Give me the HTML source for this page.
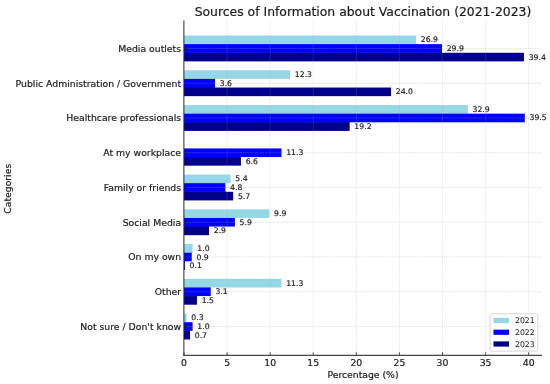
<!DOCTYPE html><html><head><meta charset="utf-8"><title>Sources of Information about Vaccination</title>
<style>html,body{margin:0;padding:0;background:#fff;}body{width:550px;height:384px;overflow:hidden;}svg{display:block;}text{font-family:"DejaVu Sans","Liberation Sans",sans-serif;fill:#1a1a1a;stroke:#1a1a1a;stroke-width:0.18px;stroke-linejoin:round;}</style></head><body>
<svg width="550" height="384" viewBox="0 0 550 384">
<rect width="550" height="384" fill="#fff"/>
<rect x="184.00" y="35.52" width="232.09" height="8.62" fill="#96d7e5"/>
<rect x="184.00" y="43.64" width="232.09" height="1" fill="#96d7e5"/>
<rect x="184.00" y="44.14" width="257.98" height="8.62" fill="#0000ff"/>
<rect x="184.00" y="52.26" width="257.98" height="1" fill="#0000ff"/>
<rect x="184.00" y="52.76" width="339.94" height="8.62" fill="#00008b"/>
<rect x="184.00" y="70.28" width="106.12" height="8.62" fill="#96d7e5"/>
<rect x="184.00" y="78.40" width="31.06" height="1" fill="#96d7e5"/>
<rect x="184.00" y="78.90" width="31.06" height="8.62" fill="#0000ff"/>
<rect x="184.00" y="87.02" width="31.06" height="1" fill="#0000ff"/>
<rect x="184.00" y="87.52" width="207.07" height="8.62" fill="#00008b"/>
<rect x="184.00" y="105.04" width="283.86" height="8.62" fill="#96d7e5"/>
<rect x="184.00" y="113.16" width="283.86" height="1" fill="#96d7e5"/>
<rect x="184.00" y="113.66" width="340.81" height="8.62" fill="#0000ff"/>
<rect x="184.00" y="121.78" width="165.66" height="1" fill="#0000ff"/>
<rect x="184.00" y="122.28" width="165.66" height="8.62" fill="#00008b"/>
<rect x="184.00" y="148.42" width="97.50" height="8.62" fill="#0000ff"/>
<rect x="184.00" y="156.54" width="56.94" height="1" fill="#0000ff"/>
<rect x="184.00" y="157.04" width="56.94" height="8.62" fill="#00008b"/>
<rect x="184.00" y="174.56" width="46.59" height="8.62" fill="#96d7e5"/>
<rect x="184.00" y="182.68" width="41.41" height="1" fill="#96d7e5"/>
<rect x="184.00" y="183.18" width="41.41" height="8.62" fill="#0000ff"/>
<rect x="184.00" y="191.30" width="41.41" height="1" fill="#0000ff"/>
<rect x="184.00" y="191.80" width="49.18" height="8.62" fill="#00008b"/>
<rect x="184.00" y="209.32" width="85.42" height="8.62" fill="#96d7e5"/>
<rect x="184.00" y="217.44" width="50.91" height="1" fill="#96d7e5"/>
<rect x="184.00" y="217.94" width="50.91" height="8.62" fill="#0000ff"/>
<rect x="184.00" y="226.06" width="25.02" height="1" fill="#0000ff"/>
<rect x="184.00" y="226.56" width="25.02" height="8.62" fill="#00008b"/>
<rect x="184.00" y="244.08" width="8.63" height="8.62" fill="#96d7e5"/>
<rect x="184.00" y="252.20" width="7.77" height="1" fill="#96d7e5"/>
<rect x="184.00" y="252.70" width="7.77" height="8.62" fill="#0000ff"/>
<rect x="184.00" y="260.82" width="0.86" height="1" fill="#0000ff"/>
<rect x="184.00" y="261.32" width="0.86" height="8.62" fill="#00008b"/>
<rect x="184.00" y="278.84" width="97.50" height="8.62" fill="#96d7e5"/>
<rect x="184.00" y="286.96" width="26.75" height="1" fill="#96d7e5"/>
<rect x="184.00" y="287.46" width="26.75" height="8.62" fill="#0000ff"/>
<rect x="184.00" y="295.58" width="12.94" height="1" fill="#0000ff"/>
<rect x="184.00" y="296.08" width="12.94" height="8.62" fill="#00008b"/>
<rect x="184.00" y="313.60" width="2.59" height="8.62" fill="#96d7e5"/>
<rect x="184.00" y="321.72" width="2.59" height="1" fill="#96d7e5"/>
<rect x="184.00" y="322.22" width="8.63" height="8.62" fill="#0000ff"/>
<rect x="184.00" y="330.34" width="6.04" height="1" fill="#0000ff"/>
<rect x="184.00" y="330.84" width="6.04" height="8.62" fill="#00008b"/>
<g stroke="#b0b0b0" stroke-opacity="0.5" stroke-width="0.6" stroke-dasharray="1.7,0.75" fill="none">
<line x1="227.09" y1="20.5" x2="227.09" y2="355.0" stroke-opacity="0.42"/>
<line x1="270.17" y1="20.5" x2="270.17" y2="355.0" stroke-opacity="0.42"/>
<line x1="313.25" y1="20.5" x2="313.25" y2="355.0" stroke-opacity="0.42"/>
<line x1="356.34" y1="20.5" x2="356.34" y2="355.0" stroke-opacity="0.42"/>
<line x1="399.43" y1="20.5" x2="399.43" y2="355.0" stroke-opacity="0.42"/>
<line x1="442.51" y1="20.5" x2="442.51" y2="355.0" stroke-opacity="0.42"/>
<line x1="485.60" y1="20.5" x2="485.60" y2="355.0" stroke-opacity="0.42"/>
<line x1="528.68" y1="20.5" x2="528.68" y2="355.0" stroke-opacity="0.42"/>
<line x1="184.0" y1="48.45" x2="542.0" y2="48.45"/>
<line x1="184.0" y1="83.21" x2="542.0" y2="83.21"/>
<line x1="184.0" y1="117.97" x2="542.0" y2="117.97"/>
<line x1="184.0" y1="152.73" x2="542.0" y2="152.73"/>
<line x1="184.0" y1="187.49" x2="542.0" y2="187.49"/>
<line x1="184.0" y1="222.25" x2="542.0" y2="222.25"/>
<line x1="184.0" y1="257.01" x2="542.0" y2="257.01"/>
<line x1="184.0" y1="291.77" x2="542.0" y2="291.77"/>
<line x1="184.0" y1="326.53" x2="542.0" y2="326.53"/>
</g>
<g fill="none"><line x1="183.9" y1="20.5" x2="183.9" y2="355.75" stroke="#2a2a2a" stroke-width="1.0"/><line x1="183.4" y1="355.3" x2="542.0" y2="355.3" stroke="#1a1a1a" stroke-width="1.0"/></g>
<g stroke="#222" stroke-width="0.8">
<line x1="184.00" y1="355.0" x2="184.00" y2="352.3"/>
<line x1="227.09" y1="355.0" x2="227.09" y2="352.3"/>
<line x1="270.17" y1="355.0" x2="270.17" y2="352.3"/>
<line x1="313.25" y1="355.0" x2="313.25" y2="352.3"/>
<line x1="356.34" y1="355.0" x2="356.34" y2="352.3"/>
<line x1="399.43" y1="355.0" x2="399.43" y2="352.3"/>
<line x1="442.51" y1="355.0" x2="442.51" y2="352.3"/>
<line x1="485.60" y1="355.0" x2="485.60" y2="352.3"/>
<line x1="528.68" y1="355.0" x2="528.68" y2="352.3"/>
<line x1="184.0" y1="48.45" x2="186.7" y2="48.45"/>
<line x1="184.0" y1="83.21" x2="186.7" y2="83.21"/>
<line x1="184.0" y1="117.97" x2="186.7" y2="117.97"/>
<line x1="184.0" y1="152.73" x2="186.7" y2="152.73"/>
<line x1="184.0" y1="187.49" x2="186.7" y2="187.49"/>
<line x1="184.0" y1="222.25" x2="186.7" y2="222.25"/>
<line x1="184.0" y1="257.01" x2="186.7" y2="257.01"/>
<line x1="184.0" y1="291.77" x2="186.7" y2="291.77"/>
<line x1="184.0" y1="326.53" x2="186.7" y2="326.53"/>
</g>
<g font-size="9.31" text-anchor="middle">
<text x="184.00" y="365.80">0</text>
<text x="227.09" y="365.80">5</text>
<text x="270.17" y="365.80">10</text>
<text x="313.25" y="365.80">15</text>
<text x="356.34" y="365.80">20</text>
<text x="399.43" y="365.80">25</text>
<text x="442.51" y="365.80">30</text>
<text x="485.60" y="365.80">35</text>
<text x="528.68" y="365.80">40</text>
</g>
<g font-size="9.31" text-anchor="end">
<text x="181.10" y="51.90">Media outlets</text>
<text x="181.10" y="86.66">Public Administration / Government</text>
<text x="181.10" y="121.42">Healthcare professionals</text>
<text x="181.10" y="156.18">At my workplace</text>
<text x="181.10" y="190.94">Family or friends</text>
<text x="181.10" y="225.70">Social Media</text>
<text x="181.10" y="260.46">On my own</text>
<text x="181.10" y="295.22">Other</text>
<text x="181.10" y="329.98">Not sure / Don't know</text>
</g>
<g font-size="7.73">
<text x="420.79" y="42.33">26.9</text>
<text x="446.68" y="50.95">29.9</text>
<text x="528.64" y="59.57">39.4</text>
<text x="294.82" y="77.09">12.3</text>
<text x="219.76" y="85.71">3.6</text>
<text x="395.77" y="94.33">24.0</text>
<text x="472.56" y="111.85">32.9</text>
<text x="529.51" y="120.47">39.5</text>
<text x="354.36" y="129.09">19.2</text>
<text x="286.20" y="155.23">11.3</text>
<text x="245.64" y="163.85">6.6</text>
<text x="235.29" y="181.37">5.4</text>
<text x="230.11" y="189.99">4.8</text>
<text x="237.88" y="198.61">5.7</text>
<text x="274.12" y="216.13">9.9</text>
<text x="239.61" y="224.75">5.9</text>
<text x="213.72" y="233.37">2.9</text>
<text x="197.33" y="250.89">1.0</text>
<text x="196.47" y="259.51">0.9</text>
<text x="189.56" y="268.13">0.1</text>
<text x="286.20" y="285.65">11.3</text>
<text x="215.45" y="294.27">3.1</text>
<text x="201.64" y="302.89">1.5</text>
<text x="191.29" y="320.41">0.3</text>
<text x="197.33" y="329.03">1.0</text>
<text x="194.74" y="337.65">0.7</text>
</g>
<text x="363.00" y="15.9" font-size="12.4" text-anchor="middle">Sources of Information about Vaccination (2021-2023)</text>
<text x="363.00" y="377.8" font-size="9.28" text-anchor="middle">Percentage (%)</text>
<text transform="translate(11.1,188.75) rotate(-90)" font-size="9.28" text-anchor="middle">Categories</text>
<rect x="490.2" y="313.8" width="47.6" height="37.3" rx="1.6" fill="#fff" fill-opacity="0.8" stroke="#ccc" stroke-width="0.8"/>
<rect x="493.5" y="317.90" width="15.5" height="5.2" fill="#96d7e5"/>
<text x="515" y="323.45" font-size="7.73" style="stroke-width:0.06px;fill:#2a2a2a;stroke:#2a2a2a">2021</text>
<rect x="493.5" y="329.65" width="15.5" height="5.2" fill="#0000ff"/>
<text x="515" y="335.20" font-size="7.73" style="stroke-width:0.06px;fill:#2a2a2a;stroke:#2a2a2a">2022</text>
<rect x="493.5" y="341.40" width="15.5" height="5.2" fill="#00008b"/>
<text x="515" y="346.95" font-size="7.73" style="stroke-width:0.06px;fill:#2a2a2a;stroke:#2a2a2a">2023</text>
</svg></body></html>
